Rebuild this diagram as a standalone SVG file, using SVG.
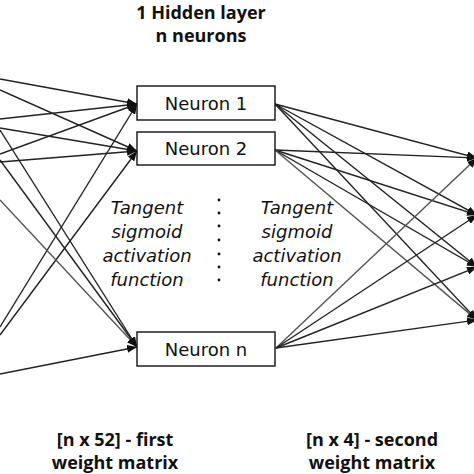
<svg xmlns="http://www.w3.org/2000/svg" width="474" height="474" viewBox="0 0 474 474">
<defs>
<marker id="ah" markerUnits="userSpaceOnUse" markerWidth="10" markerHeight="8" refX="10" refY="4" orient="auto">
<path d="M0,0 L10,4 L0,8 z" fill="#111"/>
</marker>
<style>
.title{font-family:"Open Sans","Liberation Sans",sans-serif;font-weight:bold;font-size:18px;fill:#111;text-anchor:middle}
.lbl{font-family:"DejaVu Sans","Liberation Sans",sans-serif;font-size:18px;fill:#111;text-anchor:middle}
.it{font-family:"DejaVu Sans","Liberation Sans",sans-serif;font-style:italic;font-size:18px;fill:#111;text-anchor:middle}
.box{fill:#fff;stroke:#111;stroke-width:1.4}
.c{fill:none;stroke:#222;stroke-width:1.4;marker-end:url(#ah)}
.g{stroke:#555}
.dot{fill:#111}
</style>
</defs>
<rect width="474" height="474" fill="#fff"/>
<g id="connectors">
<line class="c" x1="0" y1="79" x2="137" y2="104"/>
<line class="c" x1="0" y1="119" x2="137" y2="104"/>
<line class="c" x1="0" y1="154" x2="137" y2="104"/>
<line class="c" x1="0" y1="327" x2="137" y2="104"/>
<line class="c" x1="0" y1="90" x2="137" y2="151"/>
<line class="c" x1="0" y1="128" x2="137" y2="151"/>
<line class="c" x1="0" y1="162" x2="137" y2="151"/>
<line class="c" x1="0" y1="335" x2="137" y2="151"/>
<line class="c" x1="0" y1="130" x2="137" y2="347"/>
<line class="c" x1="0" y1="160" x2="137" y2="347"/>
<line class="c g" x1="0" y1="200" x2="137" y2="347"/>
<line class="c" x1="0" y1="374" x2="137" y2="347"/>
<line class="c" x1="275" y1="104" x2="477" y2="158"/>
<line class="c" x1="275" y1="104" x2="477" y2="215"/>
<line class="c" x1="275" y1="104" x2="477" y2="267"/>
<line class="c" x1="275" y1="104" x2="477" y2="320"/>
<line class="c" x1="275" y1="150" x2="477" y2="158"/>
<line class="c" x1="275" y1="150" x2="477" y2="215"/>
<line class="c" x1="275" y1="150" x2="477" y2="267"/>
<line class="c g" x1="275" y1="150" x2="477" y2="320"/>
<line class="c g" x1="276" y1="348" x2="477" y2="158"/>
<line class="c" x1="276" y1="348" x2="477" y2="215"/>
<line class="c" x1="276" y1="348" x2="477" y2="267"/>
<line class="c" x1="276" y1="348" x2="477" y2="320"/>
</g>
<g id="title">
<text class="title" x="201" y="19">1 Hidden layer</text>
<text class="title" x="201" y="42">n neurons</text>
</g>
<g id="neuron1">
<rect class="box" x="137" y="86" width="138" height="34"/>
<text class="lbl" x="206" y="110">Neuron 1</text>
</g>
<g id="neuron2">
<rect class="box" x="137" y="132" width="138" height="33"/>
<text class="lbl" x="206" y="155">Neuron 2</text>
</g>
<g id="neuronn">
<rect class="box" x="137" y="332" width="138" height="34"/>
<text class="lbl" x="206" y="356">Neuron n</text>
</g>
<g id="activation-left">
<text class="it" x="147" y="214">Tangent</text>
<text class="it" x="147" y="238">sigmoid</text>
<text class="it" x="147" y="262">activation</text>
<text class="it" x="147" y="286">function</text>
</g>
<g id="activation-right">
<text class="it" x="297" y="214">Tangent</text>
<text class="it" x="297" y="238">sigmoid</text>
<text class="it" x="297" y="262">activation</text>
<text class="it" x="297" y="286">function</text>
</g>
<g id="ellipsis">
<circle class="dot" cx="219" cy="200" r="1.4"/>
<circle class="dot" cx="219" cy="213" r="1.4"/>
<circle class="dot" cx="219" cy="226" r="1.4"/>
<circle class="dot" cx="219" cy="240" r="1.4"/>
<circle class="dot" cx="219" cy="254" r="1.4"/>
<circle class="dot" cx="219" cy="267" r="1.4"/>
<circle class="dot" cx="219" cy="280" r="1.4"/>
</g>
<g id="matrix1">
<text class="title" x="115" y="446">[n x 52] - first</text>
<text class="title" x="115" y="469">weight matrix</text>
</g>
<g id="matrix2">
<text class="title" x="372" y="446">[n x 4] - second</text>
<text class="title" x="372" y="469">weight matrix</text>
</g>
</svg>
